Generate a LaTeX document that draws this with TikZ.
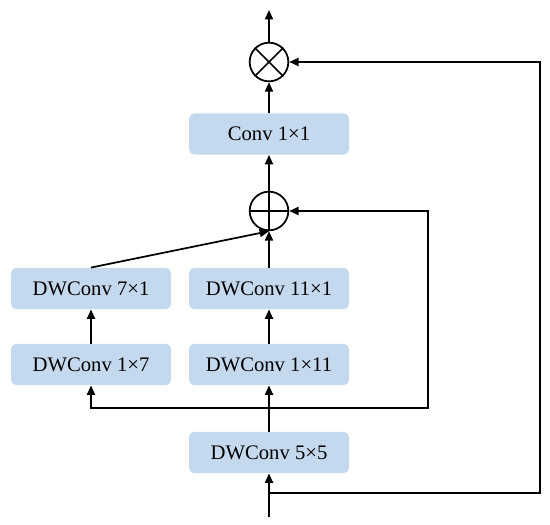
\documentclass[tikz,border=0pt]{standalone}
\usepackage{fontspec}
\setmainfont{Liberation Serif}
\usepackage{tikz}
\usetikzlibrary{arrows.meta}

\definecolor{boxblue}{RGB}{197,217,238}

\begin{document}
\begin{tikzpicture}[x=0.75pt, y=-0.75pt, conv/.style={rectangle, rounded corners=4pt, fill=boxblue, minimum width=120pt, minimum height=31pt, font=\fontsize{15.5pt}{18pt}\selectfont}, op/.style={draw, circle, minimum size=29pt, inner sep=0pt, line width=1.3pt}, n/.style={-{Triangle[width=6pt,length=7pt]}, line width=1.3pt}]
        \useasboundingbox (0,0) rectangle (550,525);
        % nodes
        \node[op] (mul) at (269,62) {};
        \node[conv] (c11) at (269,134) {Conv 1×1};
        \node[op] (add) at (269,211) {};
        \node[conv] (c71) at (91,288.5) {DWConv 7×1};
        \node[conv] (c111) at (269,288.5) {DWConv 11×1};
        \node[conv] (c17) at (91,364.5) {DWConv 1×7};
        \node[conv] (c1x11) at (269,364.5) {DWConv 1×11};
        \node[conv] (c55) at (269,452.5) {DWConv 5×5};
        \coordinate (out) at (269,10);
        \coordinate (in) at (269,517);
        \coordinate (split) at (269,493);
        \coordinate (r1) at (540,493);
        \coordinate (split2) at (269,408);
        \coordinate (r2) at (428,408);
        % signs
        \draw[line width=1.3pt] (mul.north west) -- (mul.south east) (mul.north east) -- (mul.south west);
        \draw[line width=1.3pt] (add.north) -- (add.south) (add.west) -- (add.east);
        % edges
        \draw [n] (in) -- (c55);
        \draw [n] (split) -- (r1) |- (mul);
        \draw [n] (c55) -- (c1x11);
        \draw [n] (split2) -| (c17);
        \draw [n] (split2) -- (r2) |- (add);
        \draw [n] (c17) -- (c71);
        \draw [n] (c1x11) -- (c111);
        \draw [n] (c71.north) -- (add.south);
        \draw [n] (c111) -- (add);
        \draw [n] (add) -- (c11);
        \draw [n] (c11) -- (mul);
        \draw [n] (mul) -- (out);
    \end{tikzpicture}
\end{document}
